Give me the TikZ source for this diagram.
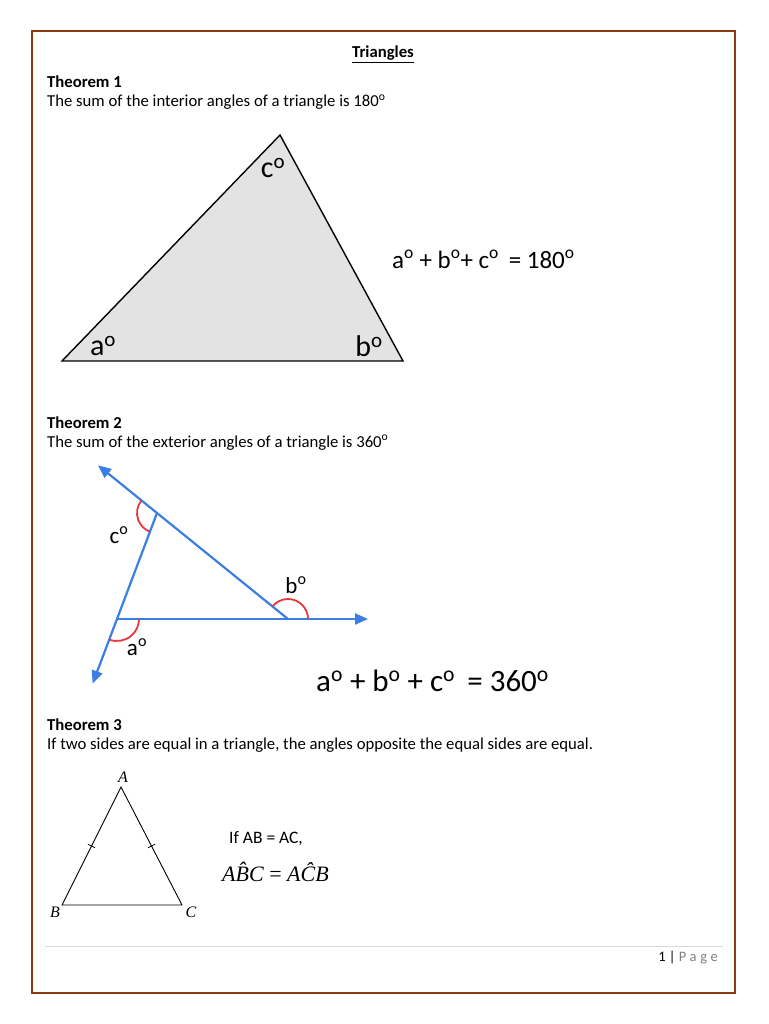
\documentclass[tikz,border=0pt]{standalone}
\usepackage{fontspec}
\setmainfont{Carlito}
\newfontfamily\timesfont{Liberation Serif}
\usetikzlibrary{positioning, arrows.meta, calc}

\definecolor{pageborder}{HTML}{8E3B14}
\definecolor{rayblue}{HTML}{3B7FE2}
\definecolor{arcred}{HTML}{E8373D}
\definecolor{triangleshade}{HTML}{E3E3E3}

\tikzset{
  bodytext/.style={inner sep=0pt, anchor=base west, font=\fontsize{16.7}{19}\selectfont},
  headtext/.style={bodytext, font=\fontsize{16.7}{19}\selectfont\bfseries},
  biglabel/.style={inner sep=0pt, font=\fontsize{30}{33}\selectfont},
  midlabel/.style={inner sep=0pt, font=\fontsize{23}{26}\selectfont},
  serlabel/.style={inner sep=0pt, font=\timesfont\itshape\fontsize{16}{18}\selectfont},
  ray/.style={rayblue, line width=2.2pt, -{Triangle[length=13pt, width=11pt]}},
  redarc/.style={arcred, line width=1.8pt},
  tick/.style={line width=0.8pt}
}

\newcommand{\dg}{\textsuperscript{o}}

\begin{document}
\begin{tikzpicture}[x=1pt, y=-1pt]
\useasboundingbox (0,0) rectangle (768,1024);
\fill[white] (0,0) rectangle (768,1024);
\draw[pageborder, line width=2pt] (32,31) rectangle (735,993);

\node[inner sep=0pt, anchor=base, font=\fontsize{16.7}{19}\selectfont\bfseries] (title) at (383,58) {\underline{Triangles}};

\node[headtext] (thm1) at (47,88) {Theorem 1};
\node[bodytext] (thm1txt) at (47,107) {The sum of the interior angles of a triangle is 180\textsuperscript{o}};

\coordinate (T1a) at (62,361);
\coordinate (T1b) at (403,361);
\coordinate (T1c) at (280,135);
\filldraw[fill=triangleshade, line width=1.4pt, line join=miter] (T1a) -- (T1b) -- (T1c) -- cycle;
\node[biglabel] (T1clab) at (273,168) {c\dg};
\node[biglabel] (T1alab) at (103,346) {a\dg};
\node[biglabel] (T1blab) at (369,346) {b\dg};
\node[inner sep=0pt, anchor=base west, font=\fontsize{25}{28}\selectfont] (eq1) at (392,268) {a\dg{} + b\dg{}+ c\dg{}\, = 180\dg};

\node[headtext] (thm2) at (47,428) {Theorem 2};
\node[bodytext] (thm2txt) at (47,447) {The sum of the exterior angles of a triangle is 360\textsuperscript{o}};

\coordinate (T2a) at (117,619);
\coordinate (T2b) at (288,619);
\coordinate (T2c) at (157,513);
\coordinate (T2ctip) at ($(T2b)!1.45!(T2c)$);
\coordinate (T2atip) at ($(T2c)!1.61!(T2a)$);
\coordinate (T2btip) at (368,619);
\draw[ray] (T2b) -- (T2ctip);
\draw[ray] (T2c) -- (T2atip);
\draw[ray] (T2a) -- (T2btip);
\draw[redarc] (T2c) ++(-141:20) arc[start angle=-141, end angle=-249, radius=20];
\draw[redarc] (T2b) ++(0:20) arc[start angle=0, end angle=-141, radius=20];
\draw[redarc] (T2a) ++(-249:22) arc[start angle=-249, end angle=-360, radius=22];
\node[midlabel] (T2clab) at (119,535) {c\dg};
\node[midlabel] (T2blab) at (296,585) {b\dg};
\node[midlabel] (T2alab) at (137,647) {a\dg};
\node[inner sep=0pt, anchor=base west, font=\fontsize{31}{34}\selectfont] (eq2) at (316,691) {a\dg{} + b\dg{} + c\dg{}\, = 360\dg};

\node[headtext] (thm3) at (47,730) {Theorem 3};
\node[bodytext] (thm3txt) at (47,749) {If two sides are equal in a triangle, the angles opposite the equal sides are equal.};

\coordinate (T3a) at (121,787);
\coordinate (T3b) at (62,905);
\coordinate (T3c) at (182,905);
\draw[line width=0.9pt] (T3a) -- (T3b) -- (T3c) -- cycle;
\draw[tick] ($(T3a)!0.5!(T3b)!4pt!90:(T3b)$) -- ($(T3a)!0.5!(T3b)!4pt!-90:(T3b)$);
\draw[tick] ($(T3a)!0.5!(T3c)!4pt!90:(T3c)$) -- ($(T3a)!0.5!(T3c)!4pt!-90:(T3c)$);
\node[serlabel] (T3alab) at (123,777) {A};
\node[serlabel] (T3blab) at (55,912) {B};
\node[serlabel] (T3clab) at (191,912) {C};
\node[inner sep=0pt, anchor=base west, font=\fontsize{17.5}{20}\selectfont] (ifline) at (229,843) {If AB = AC,};
\node[inner sep=0pt, anchor=base west, font=\timesfont\itshape\fontsize{22}{26}\selectfont] (eq3) at (222,881) {A\^{B}C {\upshape=} A\^{C}B};

\draw[black!15, line width=0.8pt] (45,946) -- (723,946);
\node[inner sep=0pt, anchor=base east, font=\fontsize{14.5}{17}\selectfont] (pagenum) at (718,961) {1 | {\color{black!50}\addfontfeature{LetterSpace=25}Page}};
\end{tikzpicture}
\end{document}
